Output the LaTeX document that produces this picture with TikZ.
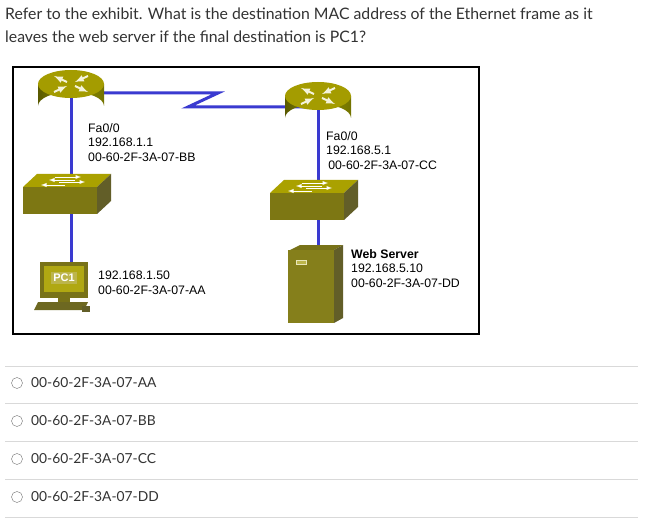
\documentclass[tikz,border=0pt]{standalone}
\usepackage{fontspec}
\usetikzlibrary{shapes.geometric}
\setmainfont{Liberation Sans}
\newfontfamily\lato{Lato}
\definecolor{lblue}{HTML}{3A3AD0}
\begin{document}
\begin{tikzpicture}[x=1pt,y=-1pt,
  lnk/.style={draw=lblue, line width=3pt},
  lbl/.style={anchor=north west, inner sep=0pt, font=\fontsize{12.3}{14.5}\selectfont, align=left},
  opt/.style={anchor=west, inner sep=0pt, font=\lato\fontsize{13.8}{15}\selectfont, text=black!80},
  radio/.style={circle, draw=black!55, minimum size=11pt, inner sep=0pt},
  sep/.style={draw=black!15, line width=0.6pt},
  rarr/.style={white!90!olive, line width=2pt, -latex}]
\useasboundingbox (0,0) rectangle (663,521);
\fill[white] (0,0) rectangle (663,521);
% title
\node[anchor=west,inner sep=0pt,font=\lato\fontsize{15.8}{17}\selectfont,text=black!80] (t1) at (5,14) {Refer to the exhibit. What is the destination MAC address of the Ethernet frame as it};
\node[anchor=west,inner sep=0pt,font=\lato\fontsize{15.8}{17}\selectfont,text=black!80] (t2) at (5,37) {leaves the web server if the final destination is PC1?};
% exhibit frame
\node[draw=black, line width=1.6pt, minimum width=466pt, minimum height=267pt, inner sep=0pt, anchor=north west] (frame) at (12,66) {};
% coordinates
\coordinate (r1) at (71,93);
\coordinate (r2) at (318,107);
% links
\coordinate (z1) at (218,93);
\coordinate (z2) at (188,107);
\draw[lnk] (r1) -- (71,192);
\draw[lnk] (71,200) -- (71,264);
\draw[lnk] (r1) -- (z1) -- (z2) -- (r2);
\draw[lnk] (r2) -- (318,200);
\draw[lnk] (318,205) -- (318,250);
% routers
\foreach \cx/\cy/\nm in {71/84/ra,318/96/rb}{
  \shade[left color=olive!70!black, right color=olive!90!black, middle color=olive!85!yellow] (\cx-33,\cy) -- (\cx-33,\cy+22) arc[start angle=180,end angle=360,x radius=33,y radius=14] -- (\cx+33,\cy) -- cycle;
  \node[ellipse, fill=olive!80!yellow, minimum width=66pt, minimum height=28pt, inner sep=0pt] (\nm) at (\cx,\cy) {};
  \draw[rarr] (\cx-4,\cy-2) -- (\cx-17,\cy-8);
  \draw[rarr] (\cx+4,\cy+2) -- (\cx+17,\cy+8);
  \draw[rarr] (\cx+17,\cy-8) -- (\cx+4,\cy-2);
  \draw[rarr] (\cx-17,\cy+8) -- (\cx-4,\cy+2);
}
% switches
\foreach \sx/\sy/\nm in {23/174/sa,270/180/sb}{
  \fill[olive!75!yellow] (\sx,\sy+13) -- (\sx+14,\sy) -- (\sx+88,\sy) -- (\sx+74,\sy+13) -- cycle;
  \fill[olive!85!black] (\sx,\sy+13) rectangle (\sx+74,\sy+40);
  \fill[olive!60!black] (\sx+74,\sy+13) -- (\sx+88,\sy) -- (\sx+88,\sy+27) -- (\sx+74,\sy+40) -- cycle;
  \node[inner sep=0pt] (\nm) at (\sx+44,\sy+20) {};
  \draw[white, line width=0.9pt, -latex] (\sx+32,\sy+3) -- (\sx+58,\sy+3);
  \draw[white, line width=0.9pt, -latex] (\sx+52,\sy+6) -- (\sx+26,\sy+6);
  \draw[white, line width=0.9pt, -latex] (\sx+36,\sy+8) -- (\sx+62,\sy+8);
  \draw[white, line width=0.9pt, -latex] (\sx+42,\sy+11) -- (\sx+18,\sy+11);
}
% PC
\fill[olive!80!black] (40,262) rectangle (88,298);
\fill[olive!55!yellow!90!black] (44,266) rectangle (84,292);
\node[fill=olive!60!white, text=white, font=\bfseries\fontsize{11}{12}\selectfont, inner sep=2pt] (pc) at (64,278) {PC1};
\fill[olive!80!black] (58,298) rectangle (70,302);
\fill[olive!70!black] (38,302) -- (88,302) -- (84,310) -- (34,310) -- cycle;
\fill[olive!60!black] (82,306) rectangle (90,312);
% server
\fill[olive!80!black] (290,250) -- (300,245) -- (343,245) -- (334,250) -- cycle;
\fill[olive!85!yellow!80!black] (288,250) rectangle (334,323);
\fill[olive!60!black] (334,250) -- (343,245) -- (343,318) -- (334,323) -- cycle;
\node[draw=white!80!olive, fill=olive!60!white, minimum width=10pt, minimum height=4pt, inner sep=0pt] (srv) at (301,262) {};
% labels
\node[lbl] (l1) at (88,123) {Fa0/0\\192.168.1.1\\00-60-2F-3A-07-BB};
\node[lbl] (l2) at (326,131) {Fa0/0\\192.168.5.1\\\,00-60-2F-3A-07-CC};
\node[lbl] (l3) at (98,271) {192.168.1.50\\00-60-2F-3A-07-AA};
\node[lbl] (l4) at (351,249) {\textbf{Web Server}\\192.168.5.10\\00-60-2F-3A-07-DD};
% options
\foreach \y in {366,403,441,479,517}{\draw[sep] (5,\y) -- (638,\y);}
\foreach \y/\t/\n in {383/AA/a,421/BB/b,459/CC/c,497/DD/d}{
  \node[radio] (c\n) at (17,\y) {};
  \node[opt] (o\n) at (31,\y) {00-60-2F-3A-07-\t};
}
\end{tikzpicture}
\end{document}
